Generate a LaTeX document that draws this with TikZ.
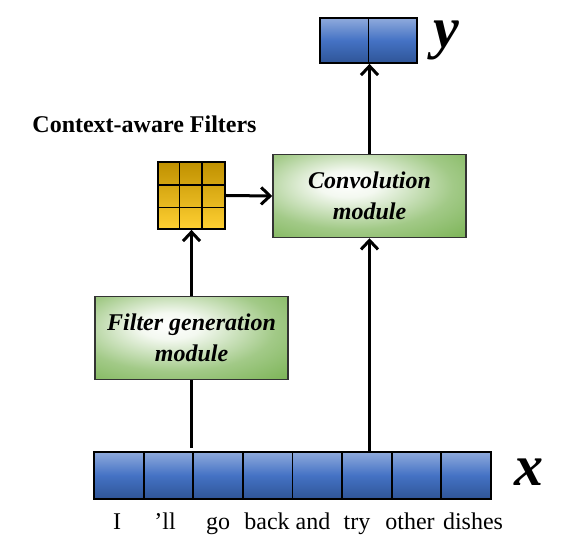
\documentclass[tikz,border=0pt]{standalone}
\usepackage{fontspec}
\setmainfont{Liberation Serif}
\usetikzlibrary{arrows.meta,calc}

\definecolor{cellTop}{RGB}{143,170,220}
\definecolor{cellMid}{RGB}{68,114,196}
\definecolor{cellBot}{RGB}{47,85,151}
\definecolor{modGreen}{RGB}{112,173,71}
\definecolor{goldTop}{RGB}{191,144,0}
\definecolor{goldBot}{RGB}{255,208,50}

\pgfdeclareradialshading{modshade}{\pgfpoint{-6bp}{8bp}}{%
    color(0bp)=(white); color(8bp)=(white!92!modGreen);
    color(26bp)=(modGreen!65!white); color(46bp)=(modGreen); color(100bp)=(modGreen)}

\tikzset{
    tokcell/.style={draw=black, line width=1.8pt, top color=cellTop, bottom color=cellBot, middle color=cellMid, minimum width=49.6pt, minimum height=47pt, inner sep=0pt},
    outcell/.style={tokcell, minimum width=48.5pt, minimum height=45pt},
    module/.style={draw=black!80, line width=1.5pt, shading=modshade, minimum width=193pt, minimum height=83pt, align=center, font=\fontsize{24}{31}\selectfont\bfseries\itshape},
    filtbox/.style={draw=black, line width=1.8pt, top color=goldTop, bottom color=goldBot, minimum width=67pt, minimum height=67pt, inner sep=0pt},
    word/.style={font=\fontsize{24}{28}\selectfont, anchor=base},
    varlab/.style={font=\fontsize{58}{58}\selectfont\bfseries\itshape},
    conn/.style={line width=3pt, -{Straight Barb[length=9pt,width=17pt,line width=3pt]}},
    plain/.style={line width=3pt}
}

\begin{document}
\begin{tikzpicture}[x=1pt,y=1pt]
    \useasboundingbox (0,0) rectangle (571,549);

    % 入力トークン列 x
    \foreach \i in {1,...,8} {
        \node[tokcell] (x\i) at ({94+49.6*(\i-0.5)},73.5) {};
    }
    \node[varlab] (xlab) at (529,77) {x};

    % 単語
    \foreach \w/\px [count=\k] in {I/117, ’ll/165, go/218, back/267, and/313, try/357, other/410, dishes/473} {
        \node[word] (w\k) at (\px,19) {\w};
    }

    % モジュール
    \node[module] (fgen) at (191.5,211) {Filter generation\\module};
    \node[module] (conv) at (369.5,353) {Convolution\\module};

    % フィルタ(3x3)
    \node[filtbox] (filt) at (191.5,353.5) {};
    \foreach \k in {1,2} {
        \draw[line width=1.8pt] ($(filt.south west)+(\k*22.33,0)$) -- ($(filt.north west)+(\k*22.33,0)$);
        \draw[line width=1.8pt] ($(filt.south west)+(0,\k*22.33)$) -- ($(filt.south east)+(0,\k*22.33)$);
    }
    \node[font=\fontsize{24}{28}\selectfont\bfseries] (ctx) at (144.5,425) {Context-aware Filters};

    % 出力 y
    \node[outcell] (y1) at (344.25,508.5) {};
    \node[outcell] (y2) at (392.75,508.5) {};
    \node[varlab] (ylab) at (446,509) {y};

    % 接続
    \coordinate (xin) at (191.5,101);
    \draw[plain] (xin) -- (fgen.south);
    \draw[conn] (fgen.north) -- (filt.south);
    \draw[conn] (filt.east) -- (conv.west);
    \draw[conn] (conv.south |- x6.north) -- (conv.south);
    \draw[conn] (conv.north) -- (conv.north |- y1.south);
\end{tikzpicture}
\end{document}
